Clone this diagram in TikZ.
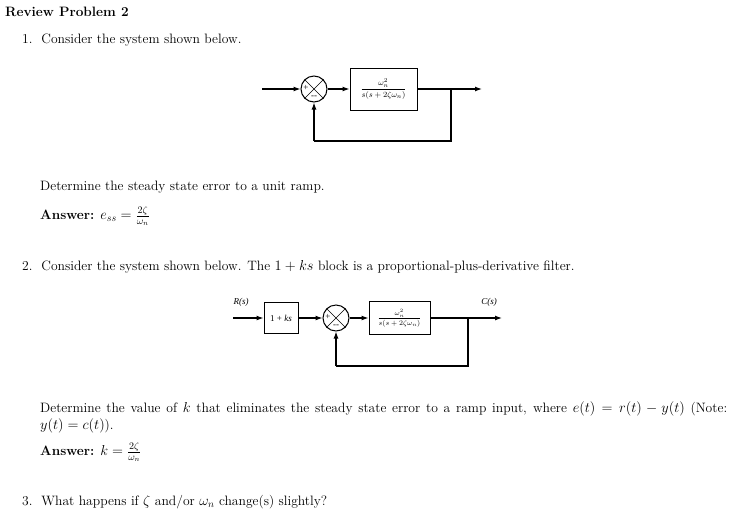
\documentclass[tikz,border=0pt]{standalone}
\usepackage{amsmath}
\usepackage{fontspec}
\newfontfamily\diag{Liberation Serif}
\usetikzlibrary{arrows.meta}
\begin{document}
\begin{tikzpicture}[x=1pt,y=-1pt,
  txt/.style={anchor=west,inner sep=0pt,font=\fontsize{13.6}{17}\selectfont},
  blk/.style={draw,line width=1pt,inner sep=0pt},
  sumc/.style={draw,circle,line width=1pt,minimum size=26pt,inner sep=0pt},
  sig/.style={line width=1.2pt,-{Latex[length=7pt,width=5pt]}},
  ln/.style={line width=1.2pt},
  lab/.style={font=\diag\fontsize{8.5}{10}\selectfont,inner sep=0pt},
  pm/.style={font=\diag\fontsize{9}{10}\selectfont,inner sep=0pt}]
\useasboundingbox (0,0) rectangle (730,517);
\node[txt,font=\bfseries\fontsize{13.6}{17}\selectfont] (title) at (5,12) {Review Problem 2};
\node[txt] (q1) at (22,40) {1.\ \ Consider the system shown below.};
% diagram 1
\coordinate (in1) at (262,89);
\node[sumc] (s1) at (314,89) {};
\draw (s1.north west) -- (s1.south east) (s1.north east) -- (s1.south west);
\node[pm] at (306,88) {+};
\node[pm] at (314,97) {--};
\node[blk,minimum width=67pt,minimum height=42pt] (g1) at (383.5,89) {};
\node[lab] at (383.5,89) {$\dfrac{\omega_n^2}{s(s+2\zeta\omega_n)}$};
\coordinate (b1) at (451,89);
\coordinate (o1) at (482,89);
\coordinate (f1) at (451,141);
\coordinate (f1b) at (314,141);
\draw[sig] (in1) -- (s1);
\draw[sig] (s1) -- (g1);
\draw[sig] (g1) -- (o1);
\draw[ln] (b1) -- (f1) -- (f1b);
\draw[sig] (f1b) -- (s1);
\node[txt] (d1) at (40,187) {Determine the steady state error to a unit ramp.};
\node[txt] (a1) at (40,216) {\textbf{Answer:} $e_{ss}=\frac{2\zeta}{\omega_n}$};
\node[txt] (q2) at (22,267) {2.\ \ Consider the system shown below. The $1+ks$ block is a proportional-plus-derivative filter.};
% diagram 2
\node[lab,font=\diag\itshape\fontsize{9}{10}\selectfont] (R) at (241,302) {R(s)};
\node[lab,font=\diag\itshape\fontsize{9}{10}\selectfont] (C) at (489,302) {C(s)};
\coordinate (in2) at (233,318);
\node[blk,minimum width=34pt,minimum height=31pt,font=\diag\fontsize{9}{10}\selectfont] (k) at (281,318) {1 + \textit{ks}};
\node[sumc] (s2) at (336,318) {};
\draw (s2.north west) -- (s2.south east) (s2.north east) -- (s2.south west);
\node[pm] at (328,317) {+};
\node[pm] at (336,326) {--};
\node[blk,minimum width=61pt,minimum height=33pt] (g2) at (399.5,318) {};
\node[lab,font=\diag\fontsize{7.5}{9}\selectfont] at (399.5,318) {$\dfrac{\omega_n^2}{s(s+2\zeta\omega_n)}$};
\coordinate (b2) at (468,318);
\coordinate (o2) at (502,318);
\coordinate (f2) at (468,366);
\coordinate (f2b) at (336,366);
\draw[sig] (in2) -- (k);
\draw[sig] (k) -- (s2);
\draw[sig] (s2) -- (g2);
\draw[sig] (g2) -- (o2);
\draw[ln] (b2) -- (f2) -- (f2b);
\draw[sig] (f2b) -- (s2);
\node[txt,anchor=north west,text width=687pt,align=justify] (d2) at (40,401) {Determine the value of $k$ that eliminates the steady state error to a ramp input, where $e(t)=r(t)-y(t)$ (Note: $y(t)=c(t)$).};
\node[txt] (a2) at (40,452) {\textbf{Answer:} $k=\frac{2\zeta}{\omega_n}$};
\node[txt] (q3) at (22,502) {3.\ \ What happens if $\zeta$ and/or $\omega_n$ change(s) slightly?};
\end{tikzpicture}
\end{document}
